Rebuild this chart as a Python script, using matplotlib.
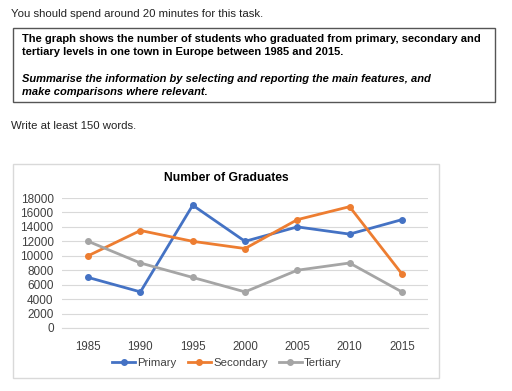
import matplotlib.pyplot as plt
from matplotlib.patches import Rectangle

plt.rcParams['font.family'] = ['Liberation Sans', 'DejaVu Sans']

years = ["1985", "1990", "1995", "2000", "2005", "2010", "2015"]
primary = [7000, 5000, 17000, 12000, 14000, 13000, 15000]
secondary = [10000, 13500, 12000, 11000, 15000, 16800, 7500]
tertiary = [12000, 9000, 7000, 5000, 8000, 9000, 5000]
y_ticks = list(range(0, 18001, 2000))

W, H = 512, 391
fig = plt.figure(figsize=(W / 100, H / 100), dpi=100)


def fx(x):
    return x / W


def fy(y):
    return 1 - y / H


# task text
fig.text(fx(11), fy(14), "You should spend around 20 minutes for this task.",
         fontsize=8.2, va="center", ha="left", color="#222222")
fig.add_artist(Rectangle((fx(13), fy(102)), fx(495) - fx(13), fy(28) - fy(102),
                         transform=fig.transFigure, fill=False,
                         edgecolor="#555555", linewidth=1))
fig.text(fx(22), fy(39), "The graph shows the number of students who graduated from primary, secondary and",
         fontsize=8.0, fontweight="bold", va="center", ha="left")
fig.text(fx(22), fy(52), "tertiary levels in one town in Europe between 1985 and 2015.",
         fontsize=8.0, fontweight="bold", va="center", ha="left")
fig.text(fx(22), fy(79), "Summarise the information by selecting and reporting the main features, and",
         fontsize=8.0, fontweight="bold", style="italic", va="center", ha="left")
fig.text(fx(22), fy(92), "make comparisons where relevant.",
         fontsize=8.0, fontweight="bold", style="italic", va="center", ha="left")
fig.text(fx(11), fy(126), "Write at least 150 words.",
         fontsize=8.2, va="center", ha="left", color="#222222")

# chart frame
fig.add_artist(Rectangle((fx(13), fy(378)), fx(439) - fx(13), fy(164) - fy(378),
                         transform=fig.transFigure, fill=False,
                         edgecolor="#d9d9d9", linewidth=1))
fig.text(fx(226), fy(178), "Number of Graduates", fontsize=8.7, fontweight="bold",
         ha="center", va="center")

ax = fig.add_axes([fx(62), fy(328), fx(428) - fx(62), fy(198) - fy(328)])
x = range(len(years))
ax.plot(x, primary, color="#4472C4", lw=2, marker="o", ms=4, label="Primary")
ax.plot(x, secondary, color="#ED7D31", lw=2, marker="o", ms=4, label="Secondary")
ax.plot(x, tertiary, color="#A5A5A5", lw=2, marker="o", ms=4, label="Tertiary")

ax.set_xlim(-0.5, len(years) - 0.5)
ax.set_ylim(0, 18000)
ax.set_yticks(y_ticks)
ax.set_yticklabels([str(v) for v in y_ticks], fontsize=8.5, color="#404040")
ax.set_xticks(list(x))
ax.set_xticklabels(years, fontsize=8.3, color="#404040")
ax.tick_params(length=0, pad=6)
ax.tick_params(axis="x", pad=9)
ax.grid(axis="y", color="#d9d9d9", lw=0.8)
ax.set_axisbelow(True)
for s in ["top", "left", "right"]:
    ax.spines[s].set_visible(False)
ax.spines["bottom"].set_color("#d9d9d9")

fig.legend(loc="center", bbox_to_anchor=(fx(227), fy(363)), ncol=3, frameon=False,
           fontsize=8.2, handlelength=2.0, handletextpad=0.2, columnspacing=1.0,
           labelcolor="#404040")

fig.savefig("out.png", dpi=100)
